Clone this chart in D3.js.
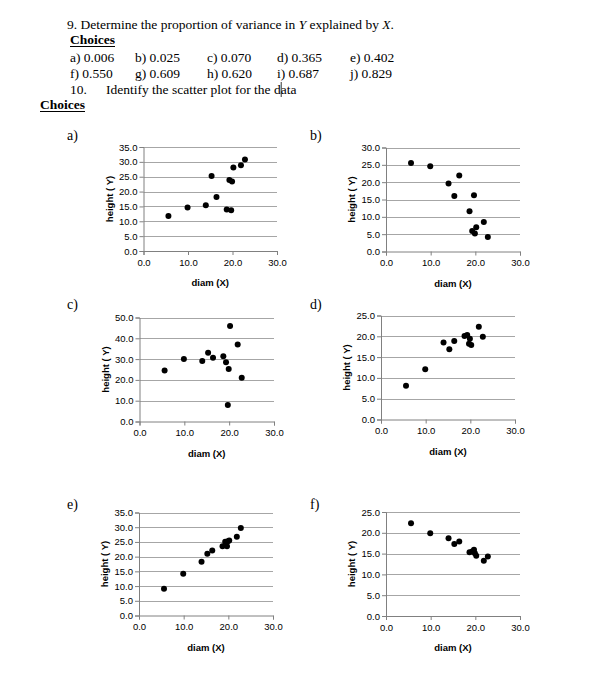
<!DOCTYPE html>
<html>
<head>
<meta charset="utf-8">
<script src="https://cdn.jsdelivr.net/npm/d3@7"></script>
<style>
  body { margin: 0; background: #fff; }
  svg { display: block; }
  .serif { font-family: "Liberation Serif", "Times New Roman", serif; fill: #000; }
  .tick text { font-family: "Liberation Sans", Arial, sans-serif; font-size: 9.5px; fill: #000; }
  .title { font-family: "Liberation Sans", Arial, sans-serif; font-size: 9.5px; font-weight: bold; }
</style>
</head>
<body>
<script>
// shared x values (diam)
var diam = [5.6, 9.9, 14.0, 15.3, 16.4, 18.7, 19.3, 19.7, 19.9, 20.2, 21.9, 22.8];

// heights for each candidate plot
var heightA = [11.8, 14.6, 15.4, 25.2, 18.2, 14.0, 23.9, 13.7, 23.4, 28.1, 28.9, 30.8];
var heightB = [25.5, 24.6, 19.6, 16.0, 21.9, 11.6, 5.9, 16.2, 5.2, 7.0, 8.5, 4.2];
var heightC = [24.5, 30.1, 29.1, 33.0, 30.6, 31.4, 28.5, 7.9, 25.3, 45.9, 37.0, 21.0];
var heightD = [8.1, 12.1, 18.5, 16.9, 18.9, 20.1, 20.3, 18.2, 19.4, 17.9, 22.3, 19.9];
var heightE = [9.1, 14.2, 18.3, 21.0, 22.1, 23.5, 25.1, 23.5, 25.2, 25.5, 26.8, 29.7];
var heightF = [22.3, 19.9, 18.7, 17.3, 17.9, 15.3, 15.5, 15.9, 15.1, 14.5, 13.3, 14.3];

var plotLabels = ['a)', 'b)', 'c)', 'd)', 'e)', 'f)'];
var yMaxes = [35, 30, 50, 25, 35, 25];
var xTicks = [0, 10, 20, 30];

var choiceLabels = ['a) 0.006', 'b) 0.025', 'c) 0.070', 'd) 0.365', 'e) 0.402',
                    'f) 0.550', 'g) 0.609', 'h) 0.620', 'i) 0.687', 'j) 0.829'];

var W = 608, H = 696;

var svg = d3.select('body').append('svg')
  .attr('width', W)
  .attr('height', H);

// ---- question text ----
var txt = svg.append('g').attr('class', 'serif').style('font-size', '13.5px');

var q9 = txt.append('text').attr('x', 67).attr('y', 29);
q9.append('tspan').text('9. Determine the proportion of variance in ');
q9.append('tspan').style('font-style', 'italic').text('Y');
q9.append('tspan').text(' explained by ');
q9.append('tspan').style('font-style', 'italic').text('X');
q9.append('tspan').text('.');

function underlined(x, y, s) {
  var t = txt.append('text')
    .attr('x', x).attr('y', y)
    .style('font-weight', 'bold')
    .text(s);
  var w = t.node().getComputedTextLength();
  txt.append('line')
    .attr('x1', x).attr('x2', x + w)
    .attr('y1', y + 2.5).attr('y2', y + 2.5)
    .attr('stroke', '#000').attr('stroke-width', 1.2);
}

underlined(70, 44, 'Choices');

var colX = [70, 135, 207, 277, 350];
txt.selectAll('text.choice')
  .data(choiceLabels)
  .enter().append('text')
  .attr('class', 'choice')
  .attr('x', function(d, i) { return colX[i % 5]; })
  .attr('y', function(d, i) { return i < 5 ? 62 : 78; })
  .text(function(d) { return d; });

txt.append('text').attr('x', 70).attr('y', 94).text('10.');
var q10 = txt.append('text').attr('x', 106).attr('y', 94)
  .text('Identify the scatter plot for the data');
// the little text cursor after "d" of "data"
var q10len = q10.node().getSubStringLength(0, 'Identify the scatter plot for the d'.length);
txt.append('line')
  .attr('x1', 106 + q10len + 0.5).attr('x2', 106 + q10len + 0.5)
  .attr('y1', 82).attr('y2', 97)
  .attr('stroke', '#000').attr('stroke-width', 0.8);

underlined(40, 109, 'Choices');

// ---- scatter plots ----
var heights = [heightA, heightB, heightC, heightD, heightE, heightF];

// where each plot area sits on the page
var layout = [
  { lx: 67,  ly: 140, x0: 143.5, x1: 277, y0: 251,   y1: 147 },
  { lx: 310, ly: 140, x0: 386,   x1: 520, y0: 251.5, y1: 147.5 },
  { lx: 67,  ly: 309, x0: 139.5, x1: 274, y0: 421.5, y1: 317.5 },
  { lx: 310, ly: 309, x0: 381,   x1: 515, y0: 419.5, y1: 315.5 },
  { lx: 67,  ly: 509, x0: 139,   x1: 273, y0: 615.5, y1: 512.5 },
  { lx: 310, ly: 509, x0: 386,   x1: 520, y0: 616,   y1: 512 }
];

heights.forEach(function(hs, k) {
  var L = layout[k];
  var g = svg.append('g');

  g.append('text')
    .attr('class', 'serif')
    .attr('x', L.lx).attr('y', L.ly)
    .style('font-size', '14px')
    .text(plotLabels[k]);

  var x = d3.scaleLinear().domain([0, 30]).range([L.x0, L.x1]);
  var y = d3.scaleLinear().domain([0, yMaxes[k]]).range([L.y0, L.y1]);
  var yTicks = d3.range(0, yMaxes[k] + 0.01, 5);
  if (yMaxes[k] === 50) yTicks = d3.range(0, 50.01, 10);

  // gridlines
  g.append('g')
    .selectAll('line')
    .data(yTicks.filter(function(d) { return d > 0; }))
    .enter().append('line')
    .attr('x1', L.x0).attr('x2', L.x1)
    .attr('y1', function(d) { return Math.round(y(d)) + 0.5; })
    .attr('y2', function(d) { return Math.round(y(d)) + 0.5; })
    .attr('stroke', '#a6a6a6')
    .attr('stroke-width', 1);

  var yAxis = g.append('g')
    .attr('transform', 'translate(' + L.x0 + ',0)')
    .call(d3.axisLeft(y).tickValues(yTicks).tickFormat(d3.format('.1f'))
      .tickSize(4).tickPadding(2));
  var xAxis = g.append('g')
    .attr('transform', 'translate(0,' + L.y0 + ')')
    .call(d3.axisBottom(x).tickValues(xTicks).tickFormat(d3.format('.1f'))
      .tickSize(4).tickPadding(4));

  [yAxis, xAxis].forEach(function(ax) {
    ax.select('.domain').attr('stroke', '#808080');
    ax.selectAll('.tick line').attr('stroke', '#808080');
  });

  g.append('text')
    .attr('class', 'title')
    .attr('x', (L.x0 + L.x1) / 2)
    .attr('y', L.y0 + 35)
    .attr('text-anchor', 'middle')
    .text('diam (X)');

  g.append('text')
    .attr('class', 'title')
    .attr('transform', 'translate(' + (L.x0 - 31) + ',' + ((L.y0 + L.y1) / 2) + ') rotate(-90)')
    .attr('text-anchor', 'middle')
    .text('height ( Y)');

  g.append('g')
    .selectAll('circle')
    .data(hs)
    .enter().append('circle')
    .attr('cx', function(d, i) { return x(diam[i]); })
    .attr('cy', function(d) { return y(d); })
    .attr('r', 3)
    .attr('fill', '#000');
});
</script>
</body>
</html>
